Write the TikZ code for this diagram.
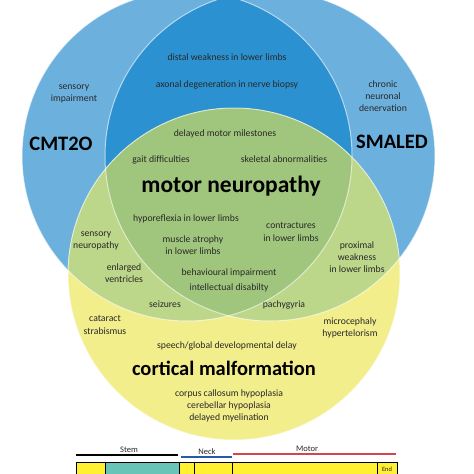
\documentclass[tikz,border=0pt]{standalone}
\usepackage{fontspec}
\setmainfont{Carlito}
\definecolor{ltblue}{RGB}{108,176,222}
\definecolor{dkblue}{RGB}{44,145,208}
\definecolor{yel}{RGB}{243,238,140}
\definecolor{ltgreen}{RGB}{188,214,138}
\definecolor{dkgreen}{RGB}{160,198,125}
\definecolor{txt}{RGB}{40,40,40}
\definecolor{boxyel}{RGB}{255,240,50}
\definecolor{boxteal}{RGB}{104,196,182}
\definecolor{neckblue}{RGB}{40,90,170}
\definecolor{motorred}{RGB}{210,70,80}
\tikzset{
  lbl/.style={inner sep=0pt, align=center, text=txt, font=\fontsize{9.7}{12.3}\selectfont},
  bigl/.style={inner sep=0pt, text=black, font=\fontsize{23.5}{26}\selectfont\bfseries},
  bigc/.style={inner sep=0pt, text=black, font=\fontsize{20.5}{24}\selectfont\bfseries},
  setl/.style={inner sep=0pt, text=black, font=\fontsize{20.5}{23}\selectfont\bfseries},
  rim/.style={draw=white, draw opacity=0.6, line width=1pt},
  dombox/.style={draw=black, line width=0.8pt},
  glab/.style={inner sep=0pt, text=txt, font=\fontsize{8.5}{10}\selectfont},
  elab/.style={inner sep=0pt, text=txt, font=\fontsize{6.5}{8}\selectfont},
}
\begin{document}
\begin{tikzpicture}[x=1pt,y=-1pt]
\useasboundingbox (0,0) rectangle (474,474);
\clip (0,0) rectangle (474,474);
\fill[white] (0,0) rectangle (474,474);
\coordinate (L) at (187,156);
\coordinate (R) at (270,156);
\coordinate (Y) at (234,274);
% blue circles
\fill[ltblue] (L) circle[radius=165pt];
\fill[ltblue] (R) circle[radius=165pt];
\begin{scope}
  \clip (L) circle[radius=165pt];
  \fill[dkblue] (R) circle[radius=165pt];
\end{scope}
% yellow circle
\fill[yel] (Y) circle[radius=166pt];
\begin{scope}
  \clip (Y) circle[radius=166pt];
  \fill[ltgreen] (L) circle[radius=165pt];
  \fill[ltgreen] (R) circle[radius=165pt];
  \clip (L) circle[radius=165pt];
  \fill[dkgreen] (R) circle[radius=165pt];
\end{scope}
\draw[rim] (L) circle[radius=165pt];
\draw[rim] (R) circle[radius=165pt];
\draw[rim] (Y) circle[radius=166pt];
% set names
\node[setl] (cmt) at (61,144) {CMT2O};
\node[setl] (smaled) at (392,142) {SMALED};
\node[bigl] (motor) at (231,186) {motor neuropathy};
\node[bigc] (cortical) at (224,368) {cortical malformation};
% labels
\node[lbl] (sensimp) at (74,94) {sensory\\impairment};
\node[lbl] (distal) at (227,57) {distal weakness in lower limbs};
\node[lbl] (axonal) at (227,85) {axonal degeneration in nerve biopsy};
\node[lbl] (chronic) at (383,96) {chronic\\neuronal\\denervation};
\node[lbl] (delayed) at (225,134) {delayed motor milestones};
\node[lbl] (gait) at (161,160) {gait difficulties};
\node[lbl] (skeletal) at (284,159) {skeletal abnormalities};
\node[lbl] (hypo) at (186,219) {hyporeflexia in lower limbs};
\node[lbl] (contr) at (291,232) {contractures\\in lower limbs};
\node[lbl] (atrophy) at (193,245) {muscle atrophy\\in lower limbs};
\node[lbl] (sensneu) at (96,241) {sensory\\neuropathy};
\node[lbl] (enlarged) at (124,273) {enlarged\\ventricles};
\node[lbl] (behav) at (229,273) {behavioural impairment};
\node[lbl] (intel) at (229,288) {intellectual disabilty};
\node[lbl] (proximal) at (357,257) {proximal\\weakness\\in lower limbs};
\node[lbl] (seiz) at (165,304) {seizures};
\node[lbl] (pachy) at (284,305) {pachygyria};
\node[lbl] (catar) at (105,325) {cataract\\strabismus};
\node[lbl] (micro) at (350,328) {microcephaly\\hypertelorism};
\node[lbl] (speech) at (227,346) {speech/global developmental delay};
\node[lbl] (corpus) at (229,406) {corpus callosum hypoplasia\\cerebellar hypoplasia\\delayed myelination};
% domain diagram
\coordinate (s1) at (76,455);  \coordinate (s2) at (178,455);
\coordinate (n1) at (181,457); \coordinate (n2) at (232,457);
\coordinate (m1) at (233,454); \coordinate (m2) at (396,454);
\draw[black, line width=1.6pt] (s1) -- (s2);
\draw[neckblue, line width=1.6pt] (n1) -- (n2);
\draw[motorred, line width=1.6pt] (m1) -- (m2);
\node[glab] (stem) at (129,449.5) {Stem};
\node[glab] (neck) at (207,451.5) {Neck};
\node[glab] (motorlab) at (307,448.5) {Motor};
\filldraw[dombox, fill=boxyel] (76,462) rectangle (105,480);
\filldraw[dombox, fill=boxteal] (105,462) rectangle (179,480);
\filldraw[dombox, fill=boxyel] (179,462) rectangle (194,480);
\filldraw[dombox, fill=boxyel] (194,462) rectangle (232,480);
\filldraw[dombox, fill=boxyel] (232,462) rectangle (377,480);
\filldraw[dombox, fill=boxyel] (377,462) rectangle (397,480);
\node[elab] (endlab) at (387,469.5) {End};
\end{tikzpicture}
\end{document}
